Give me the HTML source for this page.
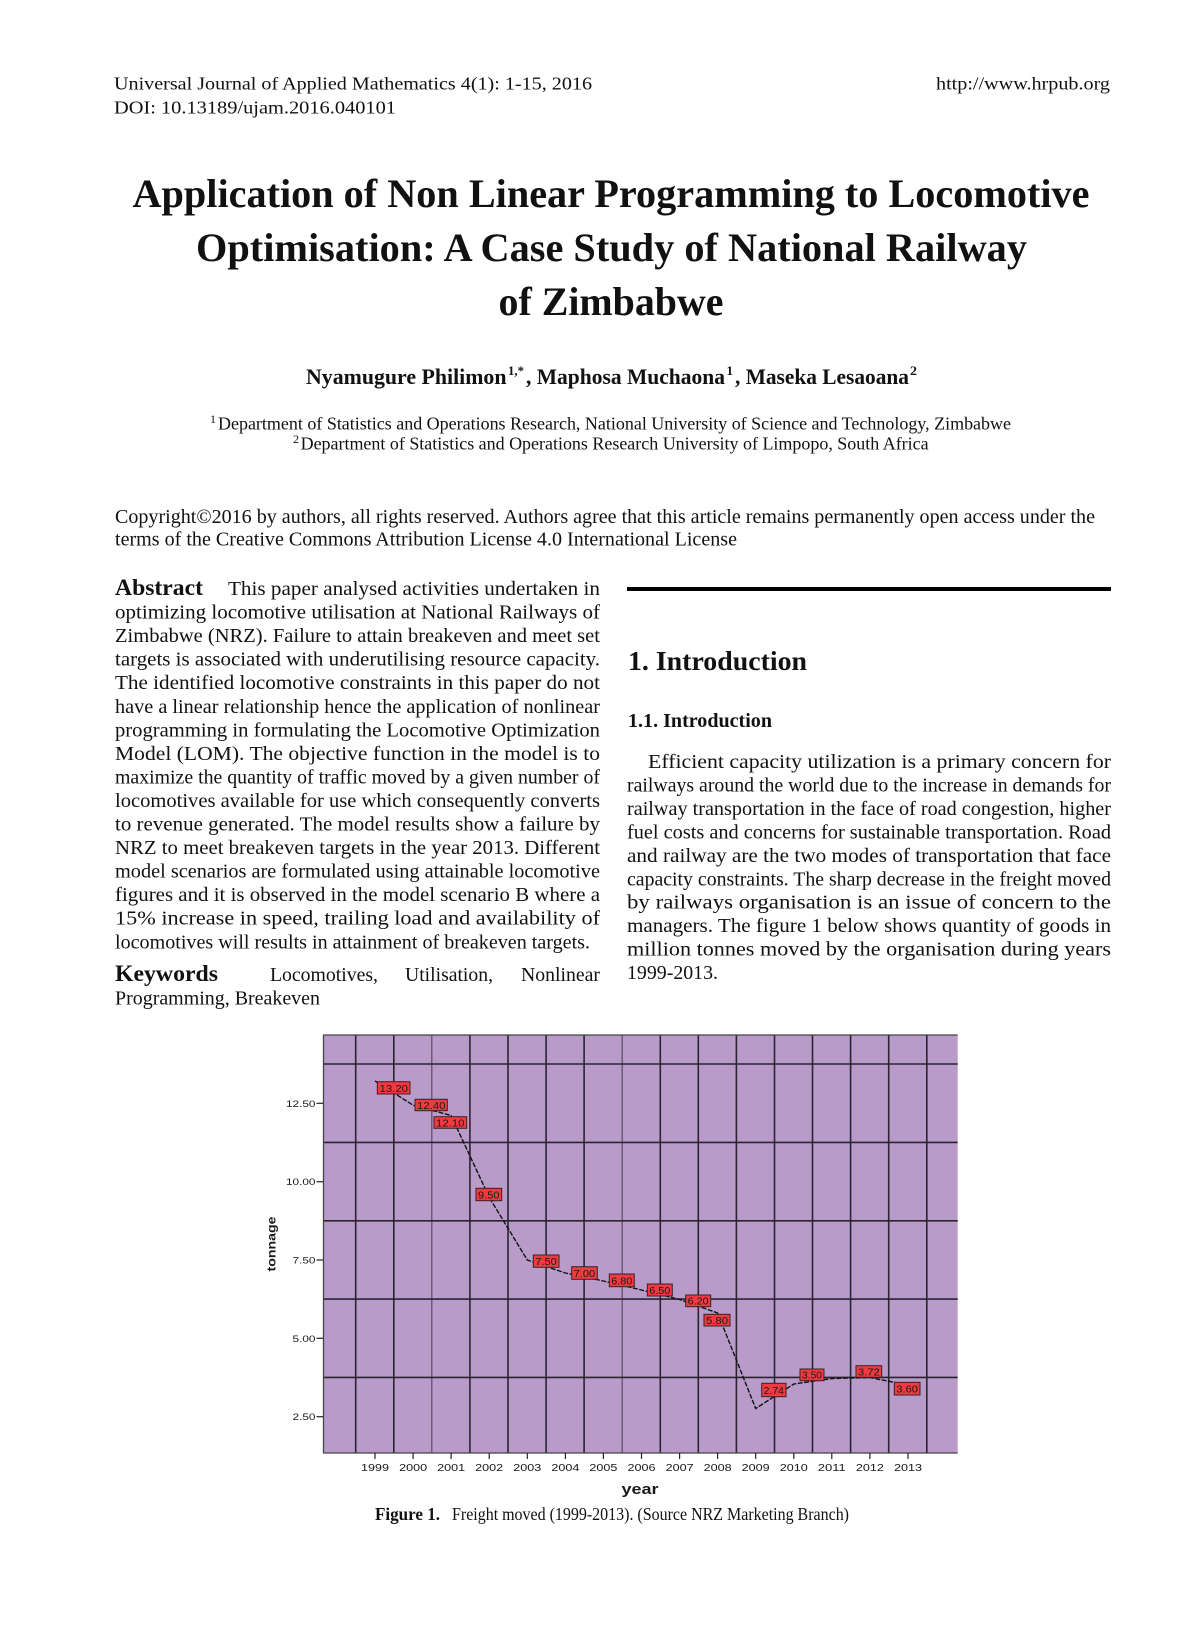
<!DOCTYPE html>
<html><head><meta charset="utf-8"><style>
body{margin:0;background:#fff}
svg{display:block}
.t{font-family:"Liberation Serif",serif;fill:#111}
.b{font-weight:bold}
.sn{font-family:"Liberation Sans",sans-serif;fill:#1a1a1a}
</style></head><body>
<svg width="1200" height="1628" viewBox="0 0 1200 1628" xmlns="http://www.w3.org/2000/svg">
<rect width="1200" height="1628" fill="#fff"/>
<g class="t" lengthAdjust="spacingAndGlyphs">
<!-- header -->
<text x="114" y="89.5" font-size="17.8" textLength="478" lengthAdjust="spacingAndGlyphs">Universal Journal of Applied Mathematics 4(1): 1-15, 2016</text>
<text x="114" y="113.5" font-size="17.8" textLength="282" lengthAdjust="spacingAndGlyphs">DOI: 10.13189/ujam.2016.040101</text>
<text x="936" y="89.5" font-size="17.8" textLength="174" lengthAdjust="spacingAndGlyphs">http://www.hrpub.org</text>
<!-- title -->
<text class="b" x="132.5" y="207" font-size="40" textLength="957" lengthAdjust="spacingAndGlyphs">Application of Non Linear Programming to Locomotive</text>
<text class="b" x="196" y="261" font-size="40" textLength="831" lengthAdjust="spacingAndGlyphs">Optimisation: A Case Study of National Railway</text>
<text class="b" x="498.5" y="315" font-size="40" textLength="225" lengthAdjust="spacingAndGlyphs">of Zimbabwe</text>
<!-- authors -->
<text class="b" x="306" y="384" font-size="21.8" textLength="200.5" lengthAdjust="spacingAndGlyphs">Nyamugure Philimon</text>
<text class="b" x="508" y="375" font-size="13" textLength="16" lengthAdjust="spacingAndGlyphs">1,*</text>
<text class="b" x="526" y="384" font-size="21.8" textLength="199" lengthAdjust="spacingAndGlyphs">, Maphosa Muchaona</text>
<text class="b" x="726.5" y="375" font-size="13" textLength="6.5" lengthAdjust="spacingAndGlyphs">1</text>
<text class="b" x="735" y="384" font-size="21.8" textLength="174" lengthAdjust="spacingAndGlyphs">, Maseka Lesaoana</text>
<text class="b" x="910" y="375" font-size="13" textLength="7" lengthAdjust="spacingAndGlyphs">2</text>
<!-- affiliations -->
<text x="210" y="423" font-size="11.5" textLength="6" lengthAdjust="spacingAndGlyphs">1</text>
<text x="218" y="429.5" font-size="17.8" textLength="793" lengthAdjust="spacingAndGlyphs">Department of Statistics and Operations Research, National University of Science and Technology, Zimbabwe</text>
<text x="293" y="443" font-size="11.5" textLength="6" lengthAdjust="spacingAndGlyphs">2</text>
<text x="300.6" y="449.5" font-size="17.8" textLength="628" lengthAdjust="spacingAndGlyphs">Department of Statistics and Operations Research University of Limpopo, South Africa</text>
<!-- copyright -->
<text x="115" y="523" font-size="19.5" textLength="980" lengthAdjust="spacingAndGlyphs">Copyright©2016 by authors, all rights reserved. Authors agree that this article remains permanently open access under the</text>
<text x="115" y="545.5" font-size="19.5" textLength="622" lengthAdjust="spacingAndGlyphs">terms of the Creative Commons Attribution License 4.0 International License</text>
<!-- abstract -->
<text class="b" x="115" y="595" font-size="23" textLength="88" lengthAdjust="spacingAndGlyphs">Abstract</text>
<text x="228" y="595" font-size="19.8" textLength="372" lengthAdjust="spacingAndGlyphs">This paper analysed activities undertaken in</text>
<text x="115" y="618.6" font-size="19.8" textLength="485" lengthAdjust="spacingAndGlyphs">optimizing locomotive utilisation at National Railways of</text>
<text x="115" y="642.1" font-size="19.8" textLength="485" lengthAdjust="spacingAndGlyphs">Zimbabwe (NRZ). Failure to attain breakeven and meet set</text>
<text x="115" y="665.7" font-size="19.8" textLength="485" lengthAdjust="spacingAndGlyphs">targets is associated with underutilising resource capacity.</text>
<text x="115" y="689.2" font-size="19.8" textLength="485" lengthAdjust="spacingAndGlyphs">The identified locomotive constraints in this paper do not</text>
<text x="115" y="712.8" font-size="19.8" textLength="485" lengthAdjust="spacingAndGlyphs">have a linear relationship hence the application of nonlinear</text>
<text x="115" y="736.3" font-size="19.8" textLength="485" lengthAdjust="spacingAndGlyphs">programming in formulating the Locomotive Optimization</text>
<text x="115" y="759.9" font-size="19.8" textLength="485" lengthAdjust="spacingAndGlyphs">Model (LOM). The objective function in the model is to</text>
<text x="115" y="783.4" font-size="19.8" textLength="485" lengthAdjust="spacingAndGlyphs">maximize the quantity of traffic moved by a given number of</text>
<text x="115" y="807" font-size="19.8" textLength="485" lengthAdjust="spacingAndGlyphs">locomotives available for use which consequently converts</text>
<text x="115" y="830.5" font-size="19.8" textLength="485" lengthAdjust="spacingAndGlyphs">to revenue generated. The model results show a failure by</text>
<text x="115" y="854.1" font-size="19.8" textLength="485" lengthAdjust="spacingAndGlyphs">NRZ to meet breakeven targets in the year 2013. Different</text>
<text x="115" y="877.6" font-size="19.8" textLength="485" lengthAdjust="spacingAndGlyphs">model scenarios are formulated using attainable locomotive</text>
<text x="115" y="901.2" font-size="19.8" textLength="485" lengthAdjust="spacingAndGlyphs">figures and it is observed in the model scenario B  where a</text>
<text x="115" y="924.7" font-size="19.8" textLength="485" lengthAdjust="spacingAndGlyphs">15% increase in speed, trailing load and availability of</text>
<text x="115" y="948.3" font-size="19.8" textLength="475" lengthAdjust="spacingAndGlyphs">locomotives will results in attainment of breakeven targets.</text>
<text class="b" x="115" y="981" font-size="23" textLength="103" lengthAdjust="spacingAndGlyphs">Keywords</text>
<text x="270" y="981" font-size="19.8" textLength="108" lengthAdjust="spacingAndGlyphs">Locomotives,</text>
<text x="405" y="981" font-size="19.8" textLength="88" lengthAdjust="spacingAndGlyphs">Utilisation,</text>
<text x="521" y="981" font-size="19.8" textLength="79" lengthAdjust="spacingAndGlyphs">Nonlinear</text>
<text x="115" y="1004.5" font-size="19.8" textLength="205" lengthAdjust="spacingAndGlyphs">Programming, Breakeven</text>
<!-- right column -->
<rect x="627" y="587" width="484" height="4" fill="#000"/>
<text class="b" x="628" y="670" font-size="27.7" textLength="179" lengthAdjust="spacingAndGlyphs">1. Introduction</text>
<text class="b" x="628" y="727" font-size="20" textLength="144" lengthAdjust="spacingAndGlyphs">1.1. Introduction</text>
<text x="648" y="768" font-size="19.8" textLength="463" lengthAdjust="spacingAndGlyphs">Efficient capacity utilization is a primary concern for</text>
<text x="627" y="791.5" font-size="19.8" textLength="484" lengthAdjust="spacingAndGlyphs">railways around the world due to the increase in demands for</text>
<text x="627" y="814.9" font-size="19.8" textLength="484" lengthAdjust="spacingAndGlyphs">railway transportation in the face of road congestion, higher</text>
<text x="627" y="838.4" font-size="19.8" textLength="484" lengthAdjust="spacingAndGlyphs">fuel costs and concerns for sustainable transportation. Road</text>
<text x="627" y="861.8" font-size="19.8" textLength="484" lengthAdjust="spacingAndGlyphs">and railway are the two modes of transportation that face</text>
<text x="627" y="885.3" font-size="19.8" textLength="484" lengthAdjust="spacingAndGlyphs">capacity constraints. The sharp decrease in the freight moved</text>
<text x="627" y="908.7" font-size="19.8" textLength="484" lengthAdjust="spacingAndGlyphs">by railways organisation is an issue of concern to the</text>
<text x="627" y="932.2" font-size="19.8" textLength="484" lengthAdjust="spacingAndGlyphs">managers. The figure 1 below shows quantity of goods in</text>
<text x="627" y="955.6" font-size="19.8" textLength="484" lengthAdjust="spacingAndGlyphs">million tonnes moved by the organisation during years</text>
<text x="627" y="979" font-size="19.8" textLength="91" lengthAdjust="spacingAndGlyphs">1999-2013.</text>
<!-- caption -->
<text class="b" x="375" y="1520" font-size="17.8" textLength="65" lengthAdjust="spacingAndGlyphs">Figure 1.</text>
<text x="452" y="1520" font-size="17.8" textLength="397" lengthAdjust="spacingAndGlyphs">Freight moved (1999-2013). (Source NRZ Marketing Branch)</text>
</g>

<!-- chart -->
<rect x="323" y="1035" width="634.7" height="418" fill="#B89BC9"/>
<g stroke="#2b2430" stroke-width="1.6">
<line x1="355.7" y1="1035" x2="355.7" y2="1453"/>
<line x1="393.8" y1="1035" x2="393.8" y2="1453"/>
<line x1="431.8" y1="1035" x2="431.8" y2="1453" stroke="#5a4a66" stroke-width="1.2"/>
<line x1="469.9" y1="1035" x2="469.9" y2="1453"/>
<line x1="508.0" y1="1035" x2="508.0" y2="1453"/>
<line x1="546.1" y1="1035" x2="546.1" y2="1453"/>
<line x1="584.1" y1="1035" x2="584.1" y2="1453"/>
<line x1="622.2" y1="1035" x2="622.2" y2="1453" stroke="#5a4a66" stroke-width="1.2"/>
<line x1="660.3" y1="1035" x2="660.3" y2="1453"/>
<line x1="698.3" y1="1035" x2="698.3" y2="1453"/>
<line x1="736.4" y1="1035" x2="736.4" y2="1453"/>
<line x1="774.5" y1="1035" x2="774.5" y2="1453"/>
<line x1="812.5" y1="1035" x2="812.5" y2="1453"/>
<line x1="850.6" y1="1035" x2="850.6" y2="1453"/>
<line x1="888.7" y1="1035" x2="888.7" y2="1453"/>
<line x1="926.8" y1="1035" x2="926.8" y2="1453"/>
<line x1="323" y1="1064" x2="957.7" y2="1064"/>
<line x1="323" y1="1142.4" x2="957.7" y2="1142.4"/>
<line x1="323" y1="1220.8" x2="957.7" y2="1220.8"/>
<line x1="323" y1="1299.1" x2="957.7" y2="1299.1"/>
<line x1="323" y1="1377.4" x2="957.7" y2="1377.4"/>
</g>
<g stroke="#444" stroke-width="1.3" fill="none">
<line x1="323" y1="1035" x2="957.7" y2="1035"/>
<line x1="323.5" y1="1035" x2="323.5" y2="1453"/>
<line x1="323" y1="1453" x2="957.7" y2="1453"/>
</g>
<!-- y ticks -->
<g stroke="#222" stroke-width="1.2">
<line x1="316.5" y1="1103.3" x2="323" y2="1103.3"/>
<line x1="316.5" y1="1181.7" x2="323" y2="1181.7"/>
<line x1="316.5" y1="1260" x2="323" y2="1260"/>
<line x1="316.5" y1="1338.3" x2="323" y2="1338.3"/>
<line x1="316.5" y1="1416.7" x2="323" y2="1416.7"/>
</g>
<g class="sn" font-size="9.5">
<text x="286" y="1106.8" textLength="29.5" lengthAdjust="spacingAndGlyphs">12.50</text>
<text x="286" y="1185.2" textLength="29.5" lengthAdjust="spacingAndGlyphs">10.00</text>
<text x="292.5" y="1263.5" textLength="23" lengthAdjust="spacingAndGlyphs">7.50</text>
<text x="292.5" y="1341.8" textLength="23" lengthAdjust="spacingAndGlyphs">5.00</text>
<text x="292.5" y="1420.2" textLength="23" lengthAdjust="spacingAndGlyphs">2.50</text>
</g>
<text class="sn" font-weight="bold" font-size="12" transform="translate(275.5,1244) rotate(-90)" text-anchor="middle" textLength="55" lengthAdjust="spacingAndGlyphs">tonnage</text>
<!-- x ticks -->
<g stroke="#222" stroke-width="1.2">
<line x1="375" y1="1453" x2="375" y2="1459"/>
<line x1="413.1" y1="1453" x2="413.1" y2="1459"/>
<line x1="451.1" y1="1453" x2="451.1" y2="1459"/>
<line x1="489.2" y1="1453" x2="489.2" y2="1459"/>
<line x1="527.3" y1="1453" x2="527.3" y2="1459"/>
<line x1="565.4" y1="1453" x2="565.4" y2="1459"/>
<line x1="603.4" y1="1453" x2="603.4" y2="1459"/>
<line x1="641.5" y1="1453" x2="641.5" y2="1459"/>
<line x1="679.6" y1="1453" x2="679.6" y2="1459"/>
<line x1="717.6" y1="1453" x2="717.6" y2="1459"/>
<line x1="755.7" y1="1453" x2="755.7" y2="1459"/>
<line x1="793.8" y1="1453" x2="793.8" y2="1459"/>
<line x1="831.8" y1="1453" x2="831.8" y2="1459"/>
<line x1="869.9" y1="1453" x2="869.9" y2="1459"/>
<line x1="908.0" y1="1453" x2="908.0" y2="1459"/>
</g>
<g class="sn" font-size="10">
<text x="361" y="1471" textLength="28" lengthAdjust="spacingAndGlyphs">1999</text>
<text x="399.1" y="1471" textLength="28" lengthAdjust="spacingAndGlyphs">2000</text>
<text x="437.1" y="1471" textLength="28" lengthAdjust="spacingAndGlyphs">2001</text>
<text x="475.2" y="1471" textLength="28" lengthAdjust="spacingAndGlyphs">2002</text>
<text x="513.3" y="1471" textLength="28" lengthAdjust="spacingAndGlyphs">2003</text>
<text x="551.4" y="1471" textLength="28" lengthAdjust="spacingAndGlyphs">2004</text>
<text x="589.4" y="1471" textLength="28" lengthAdjust="spacingAndGlyphs">2005</text>
<text x="627.5" y="1471" textLength="28" lengthAdjust="spacingAndGlyphs">2006</text>
<text x="665.6" y="1471" textLength="28" lengthAdjust="spacingAndGlyphs">2007</text>
<text x="703.6" y="1471" textLength="28" lengthAdjust="spacingAndGlyphs">2008</text>
<text x="741.7" y="1471" textLength="28" lengthAdjust="spacingAndGlyphs">2009</text>
<text x="779.8" y="1471" textLength="28" lengthAdjust="spacingAndGlyphs">2010</text>
<text x="817.8" y="1471" textLength="28" lengthAdjust="spacingAndGlyphs">2011</text>
<text x="855.9" y="1471" textLength="28" lengthAdjust="spacingAndGlyphs">2012</text>
<text x="894.0" y="1471" textLength="28" lengthAdjust="spacingAndGlyphs">2013</text>
</g>
<text class="sn" font-weight="bold" font-size="15" x="621.5" y="1494" textLength="37" lengthAdjust="spacingAndGlyphs">year</text>
<!-- data line -->
<polyline fill="none" stroke="#111" stroke-width="1.4" stroke-dasharray="5 1.5" points="375,1081 413.1,1105.2 451.1,1115.5 489.2,1197.3 527.3,1260 565.4,1273 603.4,1281 641.5,1290 679.6,1299.5 717.6,1313 755.7,1408.5 793.8,1384 831.8,1378.5 869.9,1377.5 908,1385"/>
<!-- label boxes -->
<g fill="#EF3A40" stroke="#3a2226" stroke-width="1">
<rect x="377.3" y="1081.7" width="32.7" height="12.3"/>
<rect x="415" y="1099.3" width="32.3" height="11.4"/>
<rect x="434" y="1116.7" width="32.7" height="11.6"/>
<rect x="476" y="1188.3" width="25.7" height="12.4"/>
<rect x="533.3" y="1255" width="25.7" height="12.3"/>
<rect x="571.7" y="1266.7" width="25.6" height="12.6"/>
<rect x="609.3" y="1274" width="25" height="12.7"/>
<rect x="647.3" y="1284" width="25" height="12"/>
<rect x="685.7" y="1295" width="25" height="11.7"/>
<rect x="704" y="1314.3" width="26" height="11.7"/>
<rect x="761.7" y="1383.3" width="24.3" height="13.4"/>
<rect x="800" y="1369" width="24" height="11.7"/>
<rect x="856" y="1365.7" width="25.7" height="11.6"/>
<rect x="894.3" y="1382.3" width="25.7" height="12.7"/>
</g>
<g class="sn" font-size="10" fill="#111">
<text x="379.5" y="1091.8" textLength="28.5" lengthAdjust="spacingAndGlyphs">13.20</text>
<text x="417" y="1108.8" textLength="28.5" lengthAdjust="spacingAndGlyphs">12.40</text>
<text x="436" y="1126.3" textLength="28.5" lengthAdjust="spacingAndGlyphs">12.10</text>
<text x="478" y="1198.3" textLength="21.5" lengthAdjust="spacingAndGlyphs">9.50</text>
<text x="535.3" y="1265" textLength="21.5" lengthAdjust="spacingAndGlyphs">7.50</text>
<text x="573.7" y="1276.8" textLength="21.5" lengthAdjust="spacingAndGlyphs">7.00</text>
<text x="611.3" y="1284.3" textLength="21" lengthAdjust="spacingAndGlyphs">6.80</text>
<text x="649.3" y="1293.8" textLength="21" lengthAdjust="spacingAndGlyphs">6.50</text>
<text x="687.7" y="1304.7" textLength="21" lengthAdjust="spacingAndGlyphs">6.20</text>
<text x="706" y="1324" textLength="22" lengthAdjust="spacingAndGlyphs">5.80</text>
<text x="763.7" y="1394" textLength="20.3" lengthAdjust="spacingAndGlyphs">2.74</text>
<text x="802" y="1378.7" textLength="20" lengthAdjust="spacingAndGlyphs">3.50</text>
<text x="858" y="1375.3" textLength="21.7" lengthAdjust="spacingAndGlyphs">3.72</text>
<text x="896.3" y="1392.5" textLength="21.7" lengthAdjust="spacingAndGlyphs">3.60</text>
</g>
</svg>
</body></html>
